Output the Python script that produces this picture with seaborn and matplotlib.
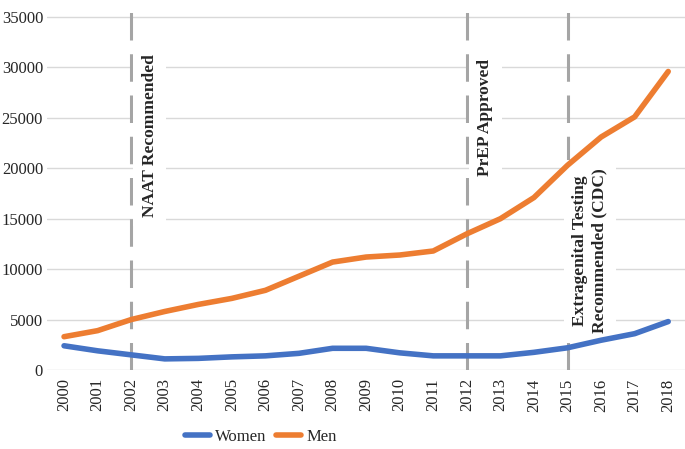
import pandas as pd
import matplotlib.pyplot as plt
import seaborn as sns

years = list(range(2000, 2019))
women = [2400, 1900, 1500, 1100, 1150, 1300, 1400, 1650, 2150, 2150,
         1700, 1400, 1400, 1400, 1750, 2200, 2950, 3600, 4800]
men = [3300, 3900, 5000, 5800, 6500, 7100, 7900, 9300, 10700, 11200,
       11400, 11800, 13500, 15000, 17100, 20300, 23100, 25100, 29600]
events = [2002, 2012, 2015]
event_labels = ["NAAT Recommended", "PrEP Approved",
                "Extragenital Testing\nRecommended (CDC)"]
label_pos = [(2002.55, 23200), (2012.55, 25000), (2015.67, 11800)]

df = pd.DataFrame({"year": years * 2,
                   "cases": women + men,
                   "sex": ["Women"] * len(years) + ["Men"] * len(years)})

sns.set_style("white")
plt.rcParams["font.family"] = ["Liberation Serif", "DejaVu Serif"]

fig = plt.figure(figsize=(6.85, 4.49), dpi=100)
ax = fig.add_axes([0.069, 0.176, 0.931, 0.813])

ax.set_ylim(0, 36200)
ax.set_xlim(1999.5, 2018.5)
ax.set_yticks(range(0, 35001, 5000))
ax.grid(axis="y", color="#d9d9d9", lw=1)
ax.set_axisbelow(True)

for x in events:
    ax.plot([x, x], [0, 36200], color="#a5a5a5", lw=2.2,
            dashes=(9, 4.5), zorder=2)

for (x, y), txt in zip(label_pos, event_labels):
    ax.text(x, y, txt, rotation=90, ha="center", va="center",
            multialignment="center", fontsize=12.5, fontweight="bold",
            linespacing=1.3,
            bbox=dict(facecolor="white", edgecolor="none", pad=6), zorder=3)

sns.lineplot(data=df, x="year", y="cases", hue="sex",
             palette=["#4472c4", "#ed7d31"], lw=4, ax=ax,
             solid_capstyle="round", solid_joinstyle="round", zorder=4)

sns.despine(left=True, bottom=True)
ax.set_xticks(years)
ax.set_xticklabels([str(y) for y in years], rotation=90)
ax.tick_params(axis="both", labelsize=12, length=0)
ax.tick_params(axis="y", pad=3)
ax.tick_params(axis="x", pad=6)
ax.set_xlabel("")
ax.set_ylabel("")

ax.get_legend().remove()
handles, labels = ax.get_legend_handles_labels()
fig.legend(handles, labels, loc="center", bbox_to_anchor=(0.381, 0.027),
           ncol=2, frameon=False, fontsize=12, handlelength=1.5,
           columnspacing=0.6, handletextpad=0.3)

fig.savefig("out.png", dpi=100)
